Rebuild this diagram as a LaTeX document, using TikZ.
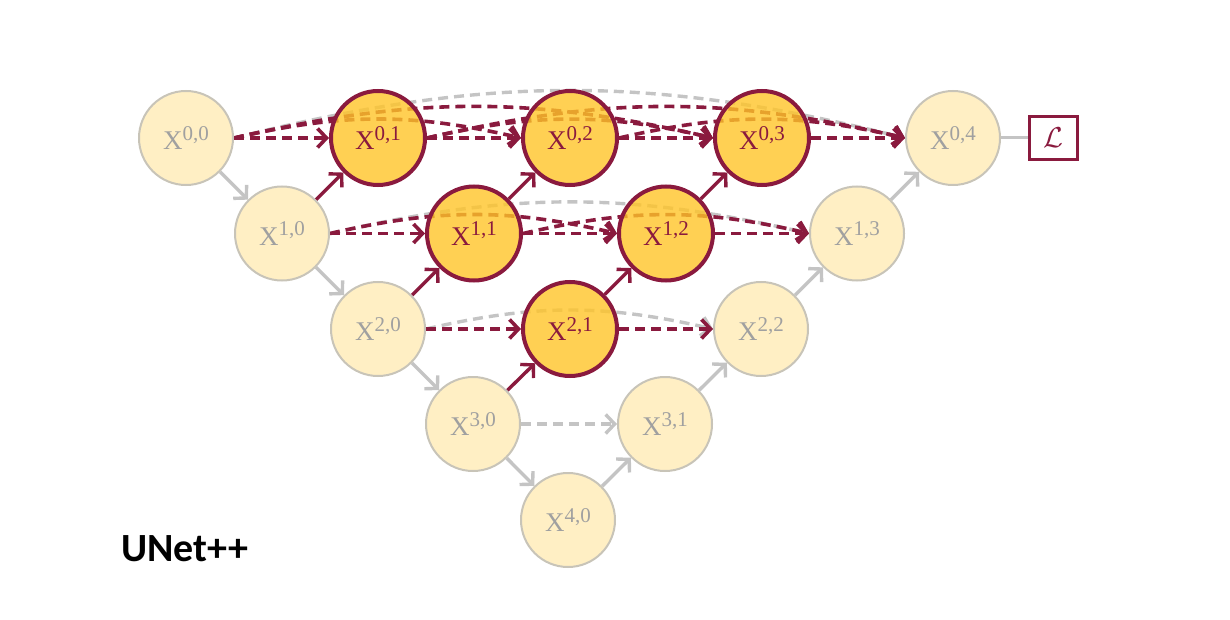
\documentclass[tikz,border=0pt]{standalone}
\usepackage{fontspec}
\setmainfont{Liberation Serif}
\newfontfamily\titlefont{Carlito}
\usetikzlibrary{arrows.meta}
\pgfdeclarelayer{bg}
\pgfsetlayers{bg,main}
\definecolor{crim}{RGB}{138,26,62}
\definecolor{gold}{RGB}{255,196,40}
\definecolor{pale}{RGB}{255,239,196}
\definecolor{gline}{RGB}{196,196,196}
\definecolor{gtext}{RGB}{160,160,160}
\definecolor{gborder}{RGB}{200,196,184}
\newcommand\xlab[2]{\fontsize{13.5}{15}\selectfont X\raisebox{4.6pt}{\fontsize{10.5}{12}\selectfont #1,#2}}
\begin{document}
\begin{tikzpicture}[x=0.5pt,y=-0.5pt,
  hl/.style={circle, draw=crim, line width=2pt, fill=gold, fill opacity=0.8, text opacity=1, text=crim, minimum size=47pt, inner sep=0pt},
  pl/.style={circle, draw=gborder, line width=1pt, fill=pale, text=gtext, minimum size=47pt, inner sep=0pt},
  tip/.style={-{Straight Barb[length=4.5pt,width=9.5pt]}},
  carrow/.style={tip, draw=crim, line width=1.7pt},
  garrow/.style={tip, draw=gline, line width=1.7pt},
  cskip/.style={carrow, line width=1.8pt, dash pattern=on 5pt off 3pt},
  gskip/.style={garrow, dash pattern=on 5pt off 3pt},
  lossbox/.style={draw=crim, line width=1.5pt, fill=white, minimum width=24pt, minimum height=21.5pt, inner sep=0pt, text=crim},
  title/.style={font=\titlefont\bfseries\fontsize{20}{24}\selectfont, anchor=base west, inner sep=0pt}
]
\path[use as bounding box] (0,0) rectangle (1230,620);
% nodes
\node[pl] (x00) at (186,138) {\xlab00};
\node[hl] (x01) at (378,138) {\xlab01};
\node[hl] (x02) at (570,138) {\xlab02};
\node[hl] (x03) at (762,138) {\xlab03};
\node[pl] (x04) at (953,138) {\xlab04};
\node[pl] (x10) at (282,233.5) {\xlab10};
\node[hl] (x11) at (474,233.5) {\xlab11};
\node[hl] (x12) at (666,233.5) {\xlab12};
\node[pl] (x13) at (857,233.5) {\xlab13};
\node[pl] (x20) at (378,329) {\xlab20};
\node[hl] (x21) at (570,329) {\xlab21};
\node[pl] (x22) at (761,329) {\xlab22};
\node[pl] (x30) at (473,424) {\xlab30};
\node[pl] (x31) at (665,424) {\xlab31};
\node[pl] (x40) at (568,520) {\xlab40};
\node[lossbox] (L) at (1053.5,138) {\fontsize{14}{16}\selectfont$\mathcal{L}$};
\node[title] (t) at (121,561) {UNet++};
\begin{pgfonlayer}{bg}
% encoder (down) arrows
\draw[garrow] (x00) -- (x10);
\draw[garrow] (x10) -- (x20);
\draw[garrow] (x20) -- (x30);
\draw[garrow] (x30) -- (x40);
% decoder (up) arrows
\draw[carrow] (x10) -- (x01);
\draw[carrow] (x11) -- (x02);
\draw[carrow] (x12) -- (x03);
\draw[carrow] (x20) -- (x11);
\draw[carrow] (x21) -- (x12);
\draw[carrow] (x30) -- (x21);
\draw[garrow] (x40) -- (x31);
\draw[garrow] (x31) -- (x22);
\draw[garrow] (x22) -- (x13);
\draw[garrow] (x13) -- (x04);
\draw[gline, line width=1.5pt] (x04) -- (L);
% skip connections, row 0
\draw[gskip] (x00.east) to[bend left=14] (x04.west);
\draw[cskip] (x00.east) -- (x01.west);
\draw[cskip] (x00.east) to[bend left=13] (x02.west);
\draw[cskip] (x00.east) to[bend left=13] (x03.west);
\draw[cskip] (x01.east) -- (x02.west);
\draw[cskip] (x01.east) to[bend left=13] (x03.west);
\draw[cskip] (x01.east) to[bend left=13] (x04.west);
\draw[cskip] (x02.east) -- (x03.west);
\draw[cskip] (x02.east) to[bend left=13] (x04.west);
\draw[cskip] (x03.east) -- (x04.west);
% row 1
\draw[gskip] (x10.east) to[bend left=13] (x13.west);
\draw[cskip] (x10.east) -- (x11.west);
\draw[cskip] (x10.east) to[bend left=13] (x12.west);
\draw[cskip] (x11.east) -- (x12.west);
\draw[cskip] (x11.east) to[bend left=13] (x13.west);
\draw[cskip] (x12.east) -- (x13.west);
% row 2
\draw[gskip] (x20.east) to[bend left=13] (x22.west);
\draw[cskip] (x20.east) -- (x21.west);
\draw[cskip] (x21.east) -- (x22.west);
% row 3
\draw[gskip] (x30.east) -- (x31.west);
\end{pgfonlayer}
\end{tikzpicture}
\end{document}
